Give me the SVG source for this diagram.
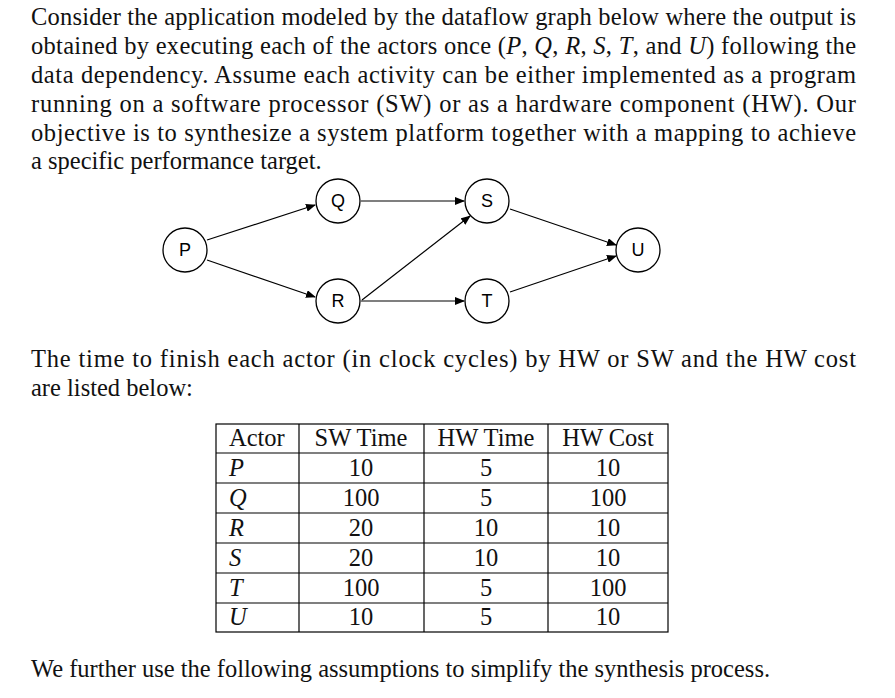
<svg xmlns="http://www.w3.org/2000/svg" width="895" height="698" viewBox="0 0 895 698">
<style>
.t{font-family:"Liberation Serif",serif;font-size:24.5px;fill:#111}
.i{font-style:italic}
.n{fill:#fff;stroke:#000;stroke-width:1.3}
.nl{font-family:"Liberation Sans",Arial,sans-serif;font-size:18px;text-anchor:middle}
.e{stroke:#000;stroke-width:1.2;fill:none;marker-end:url(#a)}
.g{stroke:#000;stroke-width:1.2}
.c{text-anchor:middle}
</style>
<defs><marker id="a" markerWidth="10" markerHeight="8" refX="9" refY="4" orient="auto" markerUnits="userSpaceOnUse"><path d="M0,0L10,4L0,8z"/></marker></defs>
<rect width="895" height="698" fill="#fff"/>
<g id="text">
<text class="t" x="31" y="25" textLength="825" lengthAdjust="spacing">Consider the application modeled by the dataflow graph below where the output is</text>
<text class="t" x="31" y="54" textLength="825" lengthAdjust="spacing">obtained by executing each of the actors once (<tspan class="i">P</tspan>, <tspan class="i">Q</tspan>, <tspan class="i">R</tspan>, <tspan class="i">S</tspan>, <tspan class="i">T</tspan>, and <tspan class="i">U</tspan>) following the</text>
<text class="t" x="31" y="83" textLength="825" lengthAdjust="spacing">data dependency. Assume each activity can be either implemented as a program</text>
<text class="t" x="31" y="112" textLength="825" lengthAdjust="spacing">running on a software processor (SW) or as a hardware component (HW). Our</text>
<text class="t" x="31" y="141" textLength="825" lengthAdjust="spacing">objective is to synthesize a system platform together with a mapping to achieve</text>
<text class="t" x="31" y="169">a specific performance target.</text>
<text class="t" x="31" y="367" textLength="825" lengthAdjust="spacing">The time to finish each actor (in clock cycles) by HW or SW and the HW cost</text>
<text class="t" x="31" y="396">are listed below:</text>
<text class="t" x="31" y="677">We further use the following assumptions to simplify the synthesis process.</text>
</g>
<g id="connectors">
<line class="e" x1="207" y1="240" x2="315" y2="205"/>
<line class="e" x1="207" y1="260" x2="315" y2="297"/>
<line class="e" x1="361" y1="201" x2="464" y2="201"/>
<line class="e" x1="362" y1="300" x2="470" y2="216"/>
<line class="e" x1="361" y1="301" x2="464" y2="301"/>
<line class="e" x1="510" y1="209" x2="616" y2="245"/>
<line class="e" x1="510" y1="292" x2="616" y2="256"/>
</g>
<g id="P"><circle class="n" cx="185" cy="250" r="22"/><text class="nl" x="185" y="256">P</text></g>
<g id="Q"><circle class="n" cx="338" cy="201" r="22"/><text class="nl" x="338" y="207">Q</text></g>
<g id="R"><circle class="n" cx="338" cy="301" r="22"/><text class="nl" x="338" y="307">R</text></g>
<g id="S"><circle class="n" cx="487" cy="201" r="22"/><text class="nl" x="487" y="207">S</text></g>
<g id="T"><circle class="n" cx="487" cy="301" r="22"/><text class="nl" x="487" y="307">T</text></g>
<g id="U"><circle class="n" cx="638" cy="250" r="22"/><text class="nl" x="638" y="256">U</text></g>
<g id="table">
<rect x="216" y="424" width="452" height="208" fill="none" class="g"/>
<line class="g" x1="299" y1="424" x2="299" y2="632"/>
<line class="g" x1="424" y1="424" x2="424" y2="632"/>
<line class="g" x1="548" y1="424" x2="548" y2="632"/>
<line class="g" x1="216" y1="453" x2="668" y2="453"/>
<line class="g" x1="216" y1="483" x2="668" y2="483"/>
<line class="g" x1="216" y1="513" x2="668" y2="513"/>
<line class="g" x1="216" y1="543" x2="668" y2="543"/>
<line class="g" x1="216" y1="573" x2="668" y2="573"/>
<line class="g" x1="216" y1="603" x2="668" y2="603"/>
<text class="t" x="229" y="446">Actor</text>
<text class="t c" x="361" y="446">SW Time</text>
<text class="t c" x="486" y="446">HW Time</text>
<text class="t c" x="608" y="446">HW Cost</text>
<g class="t">
<text class="i" x="229" y="476">P</text><text class="c" x="361" y="476">10</text><text class="c" x="486" y="476">5</text><text class="c" x="608" y="476">10</text>
<text class="i" x="229" y="506">Q</text><text class="c" x="361" y="506">100</text><text class="c" x="486" y="506">5</text><text class="c" x="608" y="506">100</text>
<text class="i" x="229" y="536">R</text><text class="c" x="361" y="536">20</text><text class="c" x="486" y="536">10</text><text class="c" x="608" y="536">10</text>
<text class="i" x="229" y="566">S</text><text class="c" x="361" y="566">20</text><text class="c" x="486" y="566">10</text><text class="c" x="608" y="566">10</text>
<text class="i" x="229" y="596">T</text><text class="c" x="361" y="596">100</text><text class="c" x="486" y="596">5</text><text class="c" x="608" y="596">100</text>
<text class="i" x="229" y="625">U</text><text class="c" x="361" y="625">10</text><text class="c" x="486" y="625">5</text><text class="c" x="608" y="625">10</text>
</g>
</g>
</svg>
